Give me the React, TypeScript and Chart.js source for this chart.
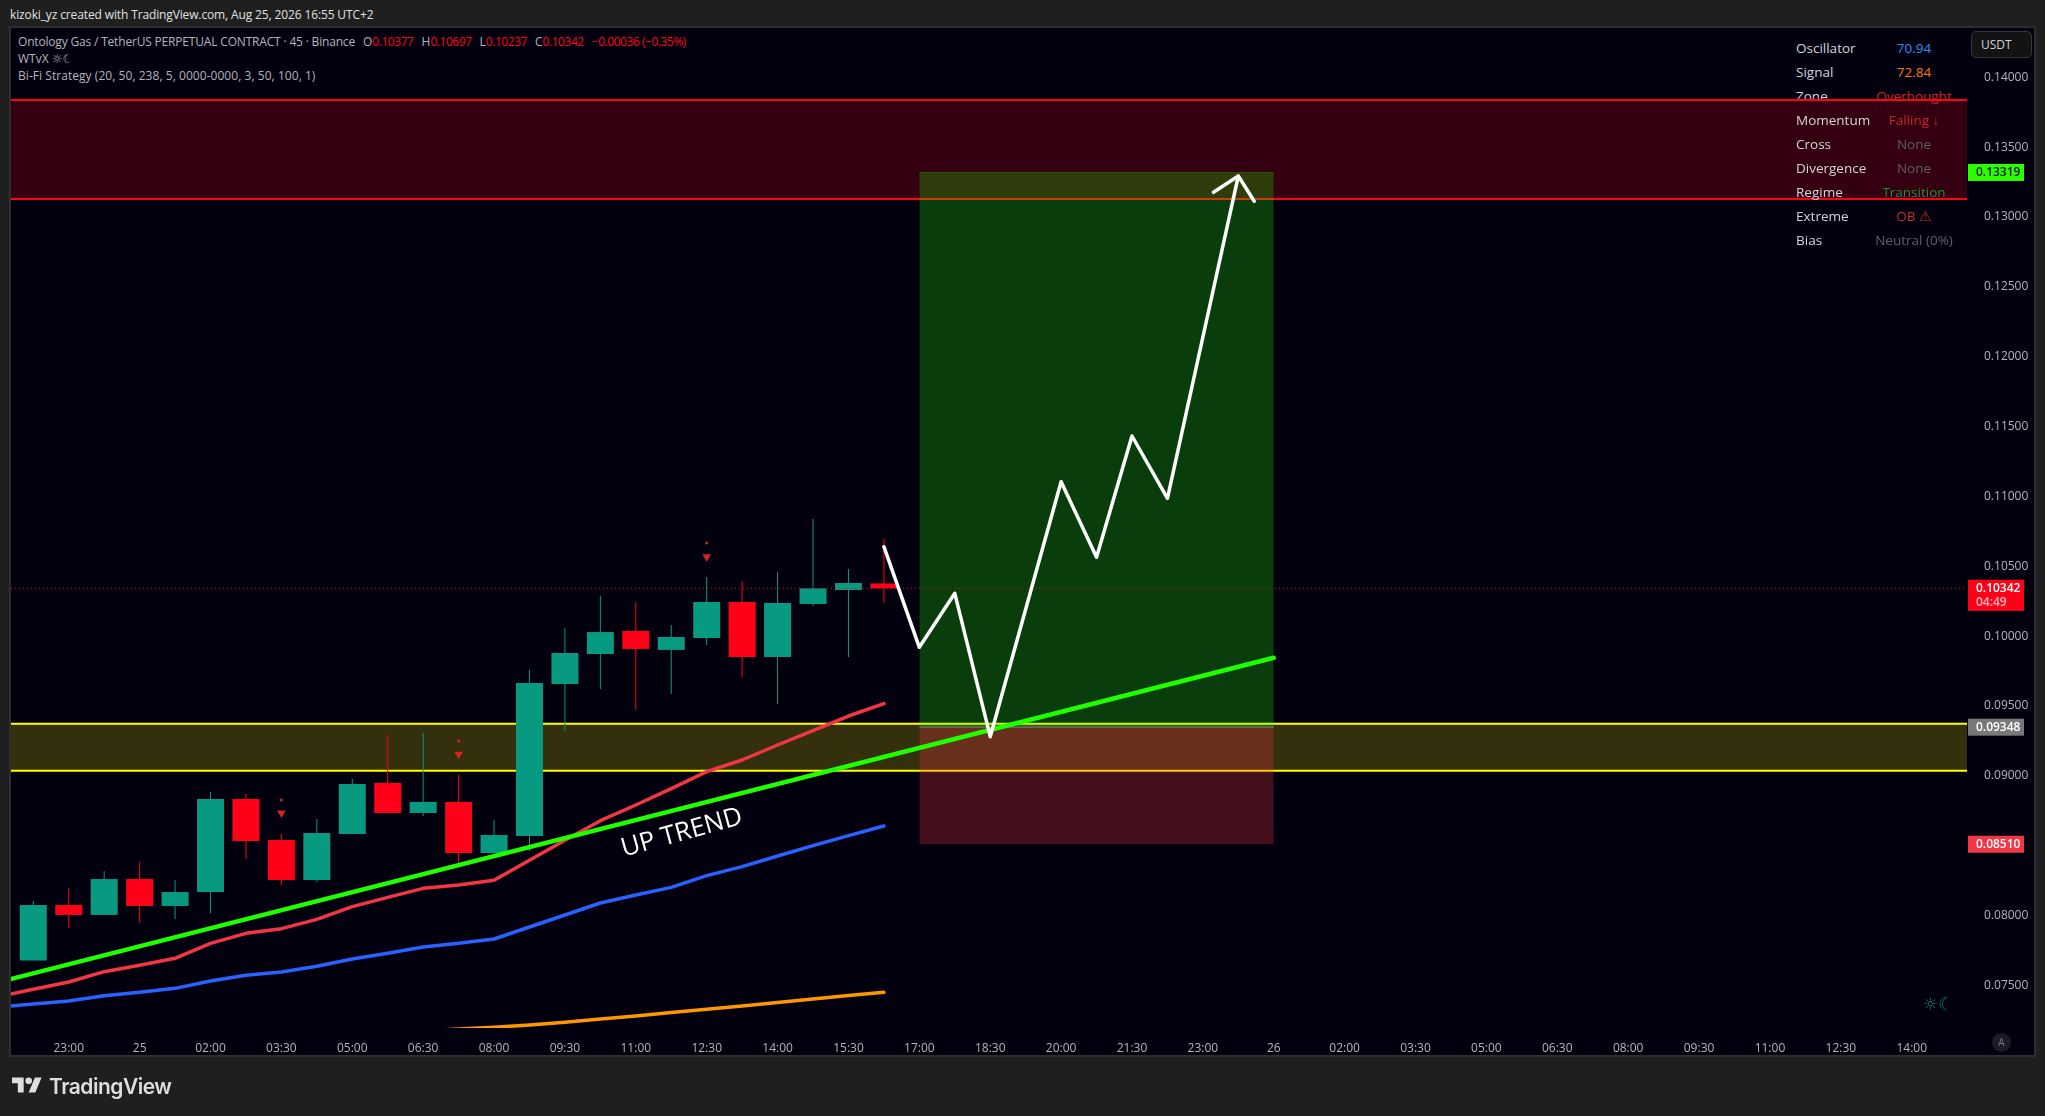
import React, { useEffect, useRef } from "react";
import { Chart, registerables } from "chart.js";

Chart.register(...registerables);

const FONT = "'Open Sans', 'Noto Sans', sans-serif";

const opens = [0.07677, 0.08075, 0.08004, 0.08261, 0.08068, 0.08168, 0.08834, 0.0854, 0.08254, 0.08583, 0.08949, 0.08734, 0.08813, 0.08447, 0.08569, 0.09657, 0.09872, 0.10037, 0.09901, 0.09986, 0.10244, 0.0985, 0.1023, 0.1033, 0.10377];
const highs = [0.08104, 0.08197, 0.08319, 0.08383, 0.08254, 0.08884, 0.0887, 0.08583, 0.08691, 0.08977, 0.09292, 0.09306, 0.09006, 0.08684, 0.09757, 0.10058, 0.10287, 0.10244, 0.10079, 0.10423, 0.10394, 0.10459, 0.10838, 0.1048, 0.10697];
const lows = [0.07677, 0.07911, 0.08004, 0.07946, 0.07975, 0.08018, 0.08404, 0.08218, 0.0824, 0.08583, 0.08734, 0.08712, 0.08354, 0.08447, 0.08462, 0.09321, 0.09621, 0.09471, 0.09586, 0.09936, 0.09707, 0.09514, 0.10215, 0.0985, 0.10237];
const closes = [0.08075, 0.08004, 0.08261, 0.08068, 0.08168, 0.08834, 0.08533, 0.08254, 0.08591, 0.08941, 0.08734, 0.08813, 0.08447, 0.08576, 0.09664, 0.09879, 0.10029, 0.09908, 0.09994, 0.10244, 0.0985, 0.10237, 0.10342, 0.1038, 0.10342];

const redMaIndex = [-1, 0, 1, 2, 3, 4, 5, 6, 7, 8, 9, 10, 11, 12, 13, 14, 15, 16, 17, 18, 19, 20, 21, 22, 23, 24];
const redMa = [0.07419, 0.074715, 0.07524, 0.075979, 0.076433, 0.076934, 0.078008, 0.078723, 0.079057, 0.079726, 0.080632, 0.081301, 0.081945, 0.082183, 0.082517, 0.083948, 0.08538, 0.086788, 0.08791, 0.089079, 0.090295, 0.091131, 0.092204, 0.09323, 0.09428, 0.095163];
const blueMa = [0.073426, 0.073665, 0.07388, 0.074262, 0.0745, 0.074786, 0.075311, 0.075717, 0.075956, 0.076361, 0.076886, 0.077292, 0.077745, 0.078008, 0.078318, 0.079177, 0.080036, 0.080895, 0.081467, 0.082016, 0.082851, 0.083495, 0.084259, 0.084998, 0.085714, 0.086406];
const orangeMaIndex = [11, 12, 13, 14, 15, 16, 17, 18, 19, 20, 21, 22, 23, 24];
const orangeMa = [0.071732, 0.071875, 0.071997, 0.072162, 0.072355, 0.072591, 0.072806, 0.073056, 0.073286, 0.073522, 0.073773, 0.074023, 0.074274, 0.074503];

const trendIndex = [-0.657, 35];
const trendPrice = [0.075433, 0.098454];

const pathIndex = [24, 25, 26, 27, 29, 30, 31, 32, 34];
const pathPrice = [0.106399, 0.099198, 0.103063, 0.092799, 0.111052, 0.105641, 0.114323, 0.109864, 0.132935];
const headIndex = [33.3, 34, 34.45];
const headPrice = [0.131768, 0.132935, 0.131124];

const markerIndex = [7, 12, 19];
const markerTriangle = [0.087337, 0.091539, 0.105683];
const markerDot = [0.088268, 0.092491, 0.106664];

const plotMin = -0.6292;
const plotMax = 54.56;
const redZone = [0.13838, 0.13129];
const yellowZone = [0.09373, 0.09036];
const boxRange = [25, 35];
const targetPrice = 0.13319;
const entryPrice = 0.09348;
const stopPrice = 0.0851;
const lastPrice = 0.10342;

const priceTicks = [0.14, 0.135, 0.13, 0.125, 0.12, 0.115, 0.11, 0.105, 0.1, 0.095, 0.09, 0.08, 0.075];
const timeTicks = ["23:00", "25", "02:00", "03:30", "05:00", "06:30", "08:00", "09:30", "11:00", "12:30", "14:00", "15:30", "17:00", "18:30", "20:00", "21:30", "23:00", "26", "02:00", "03:30", "05:00", "06:30", "08:00", "09:30", "11:00", "12:30", "14:00"];

const tableLabels = ["Oscillator", "Signal", "Zone", "Momentum", "Cross", "Divergence", "Regime", "Extreme", "Bias"];
const tableValues = ["70.94", "72.84", "Overbought", "Falling ↓", "None", "None", "Transition", "OB ⚠", "Neutral (0%)"];
const tableColors = ["#2196f3", "#f57c00", "#c62828", "#c8242e", "#5f5e68", "#5f5e68", "#1b8f3c", "#c62828", "#5d606b"];
const ohlcLetters = ["O", "H", "L", "C"];
const ohlcValues = ["0.10377", "0.10697", "0.10237", "0.10342"];

const UP = "#089981";
const DOWN = "#ff0019";

const pts = (xs: number[], ys: number[]) => ys.map((y, i) => ({ x: xs[i], y }));
const flat = (a: number, b: number, y: number) => [{ x: a, y }, { x: b, y }];
const candleIndex = closes.map((_, i) => i);
const candleColors = closes.map((c, i) => (c >= opens[i] ? UP : DOWN));

const line = (data: any[], color: string, width: number, order: number, extra: any = {}) => ({
  type: "line",
  data,
  borderColor: color,
  borderWidth: width,
  pointRadius: 0,
  tension: 0,
  order,
  clip: 0,
  borderCapStyle: "round",
  borderJoinStyle: "round",
  ...extra,
});

const tags = [
  { price: lastPrice, h: 31, bg: "#ff0019", fg: "#ffffff", sub: "04:49" },
  { price: entryPrice, h: 17, bg: "#787878", fg: "#ffffff" },
  { price: stopPrice, h: 17, bg: "#f23645", fg: "#ffffff" },
  { price: targetPrice, h: 17, bg: "#2bff00", fg: "#131722" },
];

const overlayPlugin = {
  id: "overlay",
  afterDraw(chart: any) {
    const { ctx, scales } = chart;
    const yS = scales.y;
    const xS = scales.x;
    ctx.save();
    ctx.textBaseline = "middle";
    ctx.textAlign = "left";
    ctx.font = `600 12px ${FONT}`;
    tags.forEach((t) => {
      const y = yS.getPixelForValue(t.price);
      const top = t.sub ? y - 8.5 : y - t.h / 2;
      ctx.fillStyle = t.bg;
      ctx.fillRect(1968, top, 56, t.h);
      ctx.fillStyle = t.fg;
      ctx.fillText(t.price.toFixed(5), 1976, top + 8.5);
      if (t.sub) {
        ctx.fillStyle = "rgba(255,255,255,0.72)";
        ctx.fillText(t.sub, 1976, top + 22.5);
      }
    });
    ctx.translate(xS.getPixelForValue(18.3), yS.getPixelForValue(0.0859));
    ctx.rotate((-15.5 * Math.PI) / 180);
    ctx.textAlign = "center";
    ctx.fillStyle = "#ffffff";
    ctx.font = `500 26px ${FONT}`;
    ctx.fillText("UP TREND", 0, 0);
    ctx.restore();
  },
};

export default function App() {
  const ref = useRef<HTMLCanvasElement>(null);
  useEffect(() => {
    const chart = new Chart(ref.current as HTMLCanvasElement, {
      type: "bar",
      plugins: [overlayPlugin],
      data: {
        datasets: [
          line(flat(plotMin, plotMax, redZone[0]), "#ff0019", 2, 100, { fill: { value: redZone[1] }, backgroundColor: "rgba(255,0,25,0.2)" }),
          line(flat(plotMin, plotMax, redZone[1]), "#ff0019", 2, 99),
          line(flat(plotMin, plotMax, yellowZone[0]), "#ffff00", 2, 98, { fill: { value: yellowZone[1] }, backgroundColor: "rgba(255,235,0,0.2)" }),
          line(flat(plotMin, plotMax, yellowZone[1]), "#ffff00", 2, 97),
          line(flat(boxRange[0], boxRange[1], targetPrice), "rgba(34,255,0,0.25)", 1, 90, { fill: { value: entryPrice }, backgroundColor: "rgba(34,255,0,0.24)", borderCapStyle: "butt" }),
          line(flat(boxRange[0], boxRange[1], entryPrice), "#787b86", 1, 89, { fill: { value: stopPrice }, backgroundColor: "rgba(242,54,69,0.28)", borderCapStyle: "butt" }),
          {
            type: "bar",
            grouped: false,
            barThickness: 1,
            inflateAmount: 0,
            borderWidth: 0,
            order: 60,
            backgroundColor: candleColors,
            data: candleIndex.map((i) => ({ x: i, y: [lows[i], highs[i]] })),
          },
          {
            type: "bar",
            grouped: false,
            barThickness: 27,
            inflateAmount: 0,
            borderWidth: 0,
            order: 59,
            backgroundColor: candleColors,
            data: candleIndex.map((i) => ({ x: i, y: [opens[i], closes[i]] })),
          },
          line(flat(plotMin, plotMax, lastPrice), "#ff0019", 1, 58, { borderDash: [1, 3], borderCapStyle: "butt" }),
          line(pts(redMaIndex, redMa), "#f23645", 3.5, 40),
          line(pts(redMaIndex, blueMa), "#2962ff", 3.5, 41),
          line(pts(orangeMaIndex, orangeMa), "#ff9800", 3.5, 42),
          line(pts(trendIndex, trendPrice), "#1fff00", 4.5, 30),
          line(pts(pathIndex, pathPrice), "#ffffff", 3.5, 20),
          line(pts(headIndex, headPrice), "#ffffff", 3.5, 19),
          line(pts(markerIndex, markerTriangle), "#d32525", 0, 10, {
            showLine: false,
            pointStyle: "triangle",
            rotation: 180,
            pointRadius: 5,
            pointBackgroundColor: "#d32525",
            pointBorderWidth: 0,
          }),
          line(pts(markerIndex, markerDot), "#d32525", 0, 9, {
            showLine: false,
            pointStyle: "circle",
            pointRadius: 1.5,
            pointBackgroundColor: "#d32525",
            pointBorderWidth: 0,
          }),
        ] as any,
      },
      options: {
        responsive: false,
        animation: false,
        devicePixelRatio: 1,
        layout: { padding: { left: 11, top: 28, right: 10, bottom: 61 } },
        plugins: { legend: { display: false }, tooltip: { enabled: false } },
        scales: {
          x: {
            type: "linear",
            min: plotMin,
            max: plotMax,
            offset: false,
            grid: { display: false },
            border: { display: false },
            afterFit(s: any) {
              s.height = 27;
            },
            afterBuildTicks(s: any) {
              s.ticks = timeTicks.map((_, i) => ({ value: 1 + i * 2 }));
            },
            ticks: {
              color: "#b2b5be",
              font: { family: FONT, size: 12 },
              padding: 5,
              maxRotation: 0,
              autoSkip: false,
              callback: (v: any) => timeTicks[(Number(v) - 1) / 2],
            },
          },
          y: {
            type: "linear",
            position: "right",
            min: 0.14 - (1028 - 77.3) / 13970,
            max: 0.14 + (77.3 - 28) / 13970,
            grid: { display: false },
            border: { display: false },
            afterFit(s: any) {
              s.width = 68;
            },
            afterBuildTicks(s: any) {
              s.ticks = priceTicks.map((value) => ({ value }));
            },
            ticks: {
              color: "#b2b5be",
              font: { family: FONT, size: 12 },
              padding: 9,
              autoSkip: false,
              callback: (v: any) => Number(v).toFixed(5),
            },
          },
        },
      } as any,
    });
    return () => chart.destroy();
  }, []);

  const txt: React.CSSProperties = { position: "absolute", whiteSpace: "nowrap", fontFamily: FONT, fontSize: 12, lineHeight: "16px", color: "#b2b5be" };
  const red: React.CSSProperties = { color: "#ff0019", letterSpacing: -0.45 };
  const icon: React.CSSProperties = { fontFamily: "'DejaVu Sans'" };

  const row = (i: number) => (
    <React.Fragment key={tableLabels[i]}>
      <div style={{ ...txt, left: 1796, top: 40 + i * 24, fontSize: 13.5, fontWeight: 500, color: "#d1d4dc" }}>{tableLabels[i]}</div>
      <div style={{ ...txt, left: 1854, width: 120, textAlign: "center", top: 40 + i * 24, fontSize: 13.5, fontWeight: 500, color: tableColors[i] }}>{tableValues[i]}</div>
    </React.Fragment>
  );

  return (
    <div style={{ position: "fixed", left: 0, top: 0, width: 2045, height: 1116, overflow: "hidden", background: "#1f1f1f" }}>
      <div style={{ position: "absolute", left: 11, top: 28, width: 2023, height: 1027, background: "#02000f", outline: "2px solid #2e2e2e" }} />
      <div style={{ ...txt, left: 10, top: 7, color: "#e0e0e0", fontWeight: 500, letterSpacing: -0.13 }}>kizoki_yz created with TradingView.com, Aug 25, 2026 16:55 UTC+2</div>
      <div style={{ ...txt, left: 18, top: 34 }}>
        <span style={{ letterSpacing: -0.18 }}>Ontology Gas / TetherUS PERPETUAL CONTRACT · 45 · Binance</span>
        {ohlcLetters.map((l, i) => (
          <span key={l} style={{ marginLeft: 8 }}>
            {l}
            <span style={red}>{ohlcValues[i]}</span>
          </span>
        ))}
        <span style={{ ...red, marginLeft: 8 }}>−0.00036 (−0.35%)</span>
      </div>
      <div style={{ ...txt, left: 18, top: 51 }}>
        WTvX <span style={icon}>☼☾</span>
      </div>
      <div style={{ ...txt, left: 18, top: 68, letterSpacing: 0.05 }}>Bi-Fi Strategy (20, 50, 238, 5, 0000-0000, 3, 50, 100, 1)</div>
      {[0, 1, 2].map(row)}
      <canvas ref={ref} width={2045} height={1116} style={{ position: "absolute", left: 0, top: 0, width: 2045, height: 1116 }} />
      {[3, 4, 5, 6, 7, 8].map(row)}
      <div style={{ ...txt, ...icon, left: 1923, top: 996, fontSize: 17, color: "#0d7c66" }}>☼☾</div>
      <div style={{ ...txt, left: 1971, top: 31, width: 59, height: 25, background: "#131313", border: "1px solid #363636", borderRadius: 5, color: "#d1d4dc", fontWeight: 500, lineHeight: "25px", textIndent: 9 }}>USDT</div>
      <div style={{ ...txt, left: 1992, top: 1033, width: 19, height: 19, borderRadius: 10, background: "#1c1c26", color: "#787b86", fontSize: 10, lineHeight: "19px", textAlign: "center" }}>A</div>
      <svg width="30" height="16" viewBox="0 4 36 18" style={{ position: "absolute", left: 12, top: 1077 }}>
        <path d="M14 22H7V11H0V4h14v18zM28 22h-8l7.5-18h8L28 22z" fill="#dedede" />
        <circle cx="20" cy="8" r="4" fill="#dedede" />
      </svg>
      <div style={{ position: "absolute", left: 49, top: 1073, fontFamily: "Inter", fontWeight: 600, fontSize: 21, lineHeight: "28px", color: "#dedede", letterSpacing: -0.5, whiteSpace: "nowrap" }}>TradingView</div>
    </div>
  );
}
